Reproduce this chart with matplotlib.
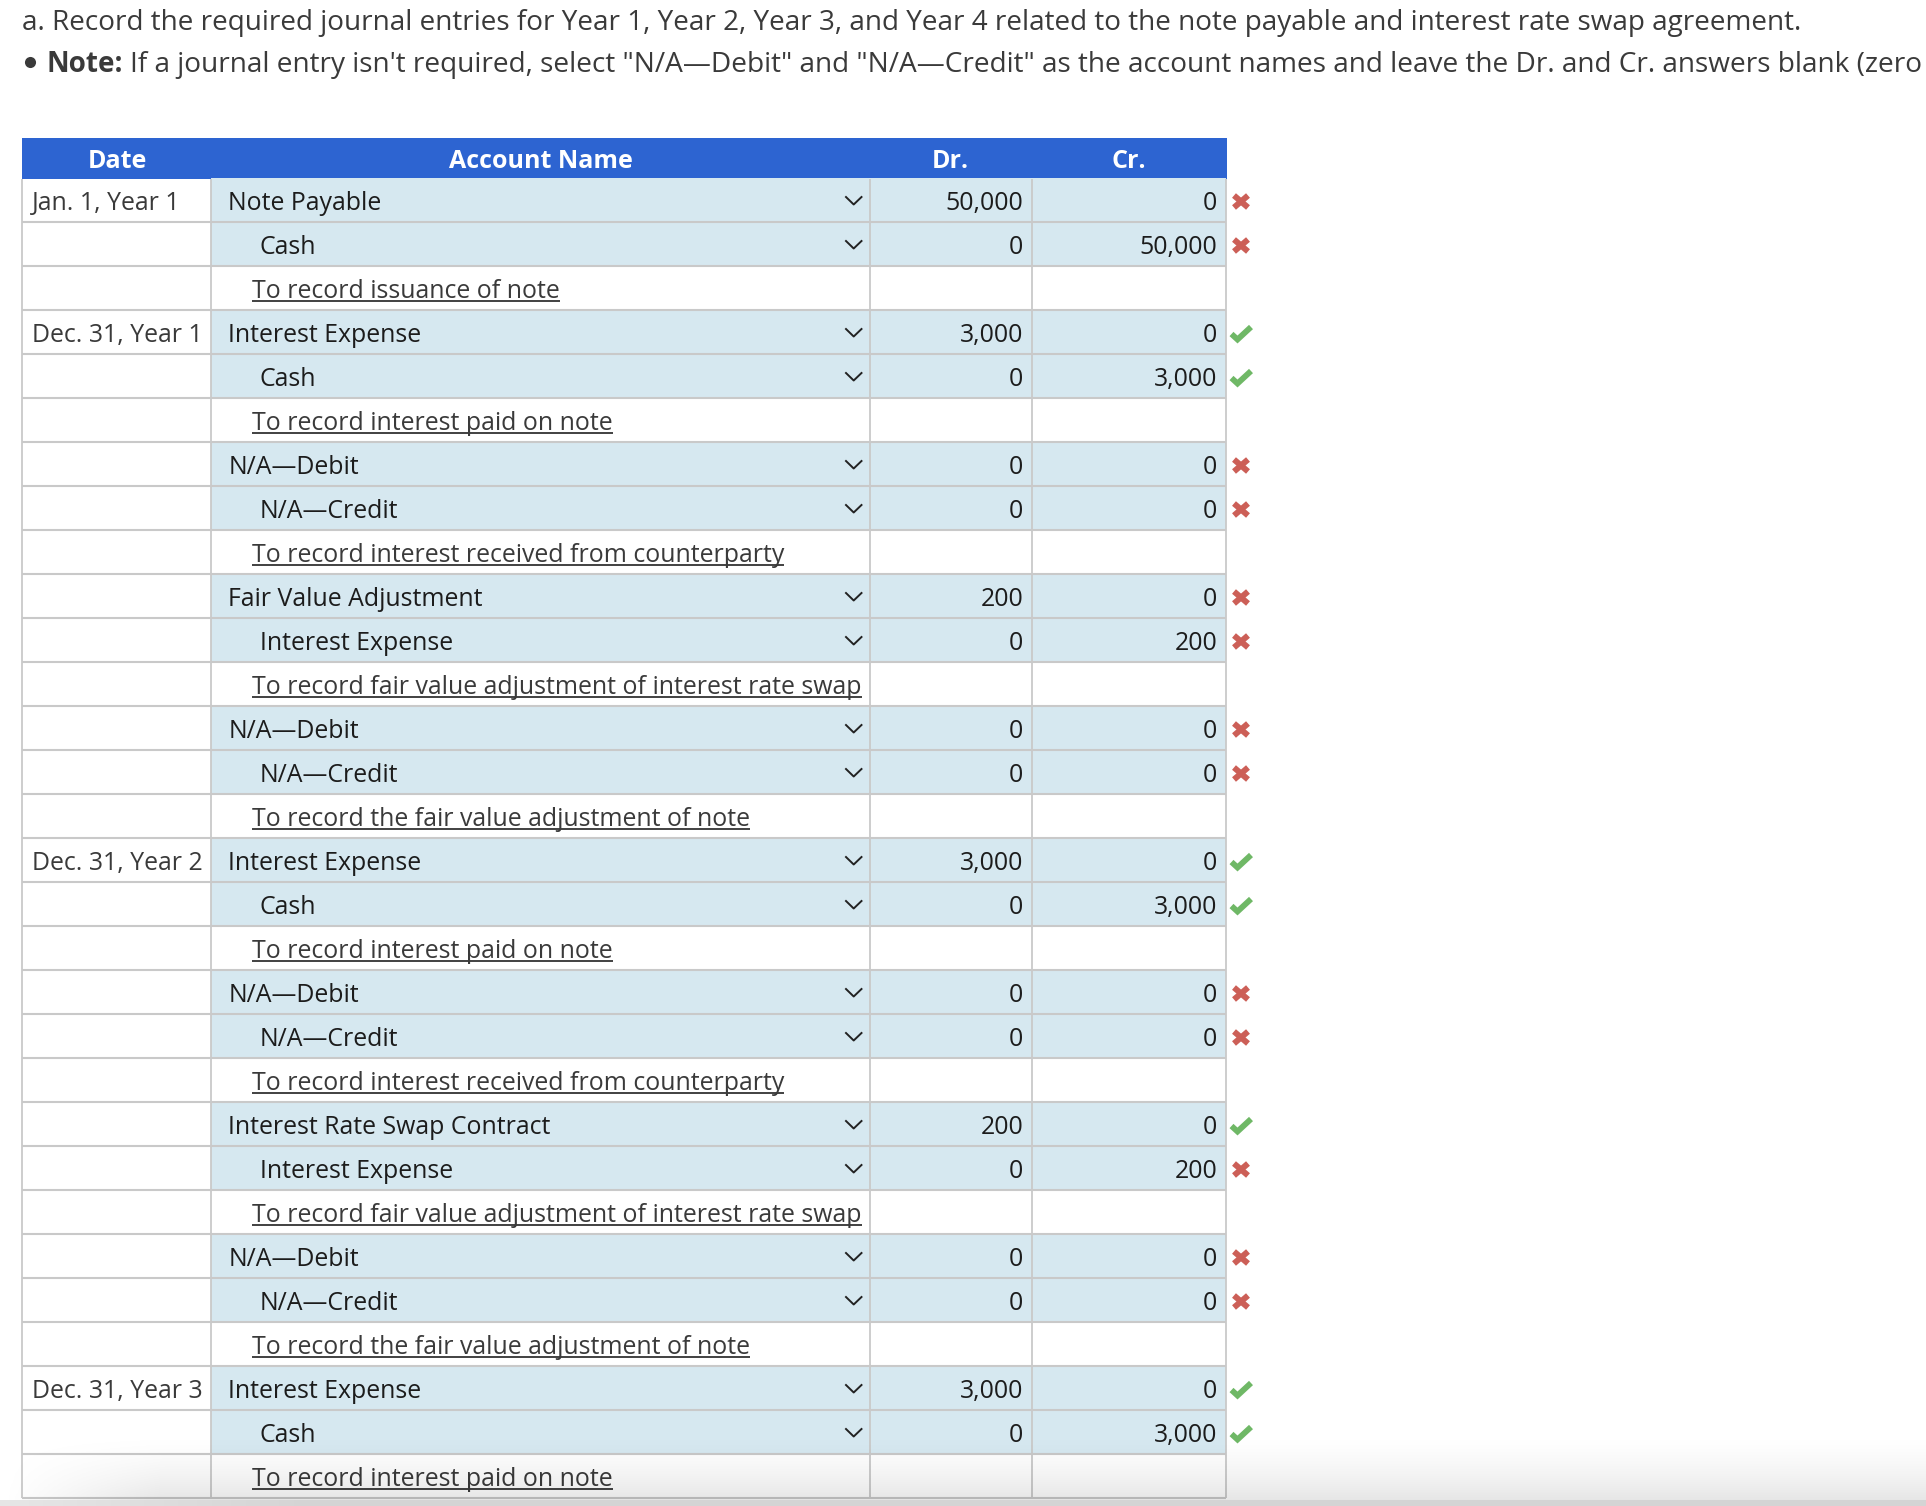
import matplotlib
matplotlib.use("Agg")
import matplotlib.pyplot as plt
import numpy as np
from matplotlib.patches import Rectangle

plt.rcParams['font.family'] = ['Open Sans', 'DejaVu Sans']

INTRO_1 = "a. Record the required journal entries for Year 1, Year 2, Year 3, and Year 4 related to the note payable and interest rate swap agreement."
NOTE_B = "Note:"
NOTE_T = "If a journal entry isn't required, select \"N/A\u2014Debit\" and \"N/A\u2014Credit\" as the account names and leave the Dr. and Cr. answers blank (zero"
HEADERS = ["Date", "Account Name", "Dr.", "Cr."]

dates = ["Jan. 1, Year 1", "", "", "Dec. 31, Year 1", "", "", "", "", "", "", "", "", "", "", "",
         "Dec. 31, Year 2", "", "", "", "", "", "", "", "", "", "", "",
         "Dec. 31, Year 3", "", ""]
accounts = ["Note Payable", "Cash", "To record issuance of note",
            "Interest Expense", "Cash", "To record interest paid on note",
            "N/A\u2014Debit", "N/A\u2014Credit", "To record interest received from counterparty",
            "Fair Value Adjustment", "Interest Expense", "To record fair value adjustment of interest rate swap",
            "N/A\u2014Debit", "N/A\u2014Credit", "To record the fair value adjustment of note",
            "Interest Expense", "Cash", "To record interest paid on note",
            "N/A\u2014Debit", "N/A\u2014Credit", "To record interest received from counterparty",
            "Interest Rate Swap Contract", "Interest Expense", "To record fair value adjustment of interest rate swap",
            "N/A\u2014Debit", "N/A\u2014Credit", "To record the fair value adjustment of note",
            "Interest Expense", "Cash", "To record interest paid on note"]
dr = ["50,000", "0", "", "3,000", "0", "", "0", "0", "", "200", "0", "", "0", "0", "",
      "3,000", "0", "", "0", "0", "", "200", "0", "", "0", "0", "", "3,000", "0", ""]
cr = ["0", "50,000", "", "0", "3,000", "", "0", "0", "", "0", "200", "", "0", "0", "",
      "0", "3,000", "", "0", "0", "", "0", "200", "", "0", "0", "", "0", "3,000", ""]
marks = ["x", "x", "", "c", "c", "", "x", "x", "", "x", "x", "", "x", "x", "",
         "c", "c", "", "x", "x", "", "c", "x", "", "x", "x", "", "c", "c", ""]

W, H = 1926, 1506
fig = plt.figure(figsize=(W / 100, H / 100), dpi=100, facecolor="white")
ax = fig.add_axes([0, 0, 1, 1])
ax.set_xlim(0, W)
ax.set_ylim(H, 0)
ax.axis("off")

COLS = [22, 211, 870, 1032, 1226]
TOP, ROW = 178, 44
GRID, FILL = "#c9c9c9", "#d6e8f0"
FS = 17.9
FS_TOP = 20.07
TXT = "#1c1c1c"
SOFT = "#3a3a3a"

ax.text(22, 30, INTRO_1, fontsize=FS_TOP, color=SOFT, va="baseline")
ax.plot([30], [62], "o", ms=8, color=SOFT, mew=0)
b = ax.text(46.5, 71.5, NOTE_B, fontsize=FS_TOP, color=SOFT, va="baseline", fontweight="bold")
fig.canvas.draw()
r = fig.canvas.get_renderer()
bx = b.get_window_extent(r).x1
ax.text(bx + 7.5, 71.5, NOTE_T, fontsize=FS_TOP + 0.1, color=SOFT, va="baseline", clip_on=True)

ax.add_patch(Rectangle((22, 138), 1205, 41, fc="#2d64d1", ec="none"))
for c, x in zip(HEADERS, [117, 540.5, 950.5, 1129]):
    ax.text(x, 168.3, c, fontsize=FS + 0.1, color="white", ha="center", va="baseline", fontweight="bold")

n = len(accounts)
for i in range(n):
    y0 = TOP + i * ROW
    base = y0 + 31.7
    if dr[i]:
        ax.add_patch(Rectangle((COLS[1], y0), COLS[4] - COLS[1], ROW, fc=FILL, ec="none"))
    if dates[i]:
        ax.text(32, base, dates[i], fontsize=FS, color=SOFT, va="baseline")
    name = accounts[i]
    if name.startswith("To record"):
        t = ax.text(252, base, name, fontsize=FS, color=SOFT, va="baseline")
        e = t.get_window_extent(r)
        ax.plot([e.x0, e.x1], [y0 + 34.5, y0 + 34.5], color="#333333", lw=1.3, solid_capstyle="butt")
    else:
        indent = 259.8 if (i % 3 == 1) else 228.3
        ax.text(indent, base, name, fontsize=FS, color=TXT, va="baseline")
        ax.plot([846, 853.7, 861.5], [y0 + 19, y0 + 26.5, y0 + 19], color="#222222", lw=1.4)
    if dr[i]:
        ax.text(1023, base, dr[i], fontsize=FS, color=TXT, va="baseline", ha="right")
    if cr[i]:
        ax.text(1217, base, cr[i], fontsize=FS, color=TXT, va="baseline", ha="right")
    mx = 1241
    my = y0 + 23.5
    if marks[i] == "x":
        for dy in (-6, 6):
            ax.plot([mx - 7, mx + 7], [my - dy, my + dy], color="#cc5f57", lw=4.3, solid_capstyle="butt")
    elif marks[i] == "c":
        ax.plot([1231.5, 1237.5, 1251], [y0 + 24, y0 + 29.5, y0 + 17], color="#6fb866", lw=4.2,
                solid_capstyle="butt", solid_joinstyle="miter")

for i in range(1, n + 1):
    y = TOP + i * ROW
    ax.plot([COLS[0], COLS[4]], [y, y], color=GRID, lw=1.5, solid_capstyle="butt")
for x in COLS:
    ax.plot([x, x], [TOP + 1, TOP + n * ROW], color=GRID, lw=1.3, solid_capstyle="butt")

# bottom fade of the screenshot: stronger toward the bottom, fading out at the far left
v = np.linspace(0, 1, 70)[:, None] ** 1.6
h = np.clip(np.linspace(0, W, 400) / 160, 0, 1)[None, :]
grad = np.zeros((70, 400, 4))
grad[..., 3] = 0.1 * v * h
ax.imshow(grad, extent=[0, W, 1500, 1430], aspect="auto", zorder=5)
band = np.zeros((1, 400, 4))
band[..., :3] = 0.0
band[..., 3] = 0.10 + 0.07 * np.clip(np.linspace(0, W, 400) / 300, 0, 1)
ax.imshow(band, extent=[0, W, 1506, 1500], aspect="auto", zorder=6)
ax.set_xlim(0, W)
ax.set_ylim(H, 0)

fig.savefig("out.png", dpi=100, facecolor="white")
